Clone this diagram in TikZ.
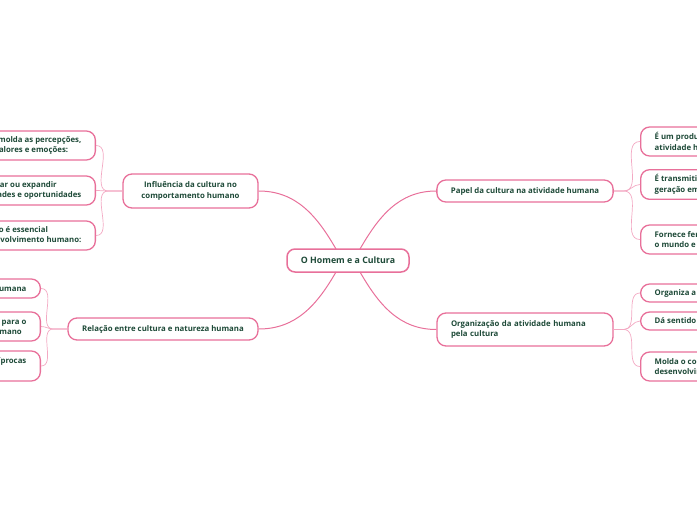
\documentclass[tikz,border=0pt]{standalone}
\usepackage{fontspec}
\setmainfont{Open Sans}
\begin{document}
\begin{tikzpicture}[x=1pt,y=-1pt,
  every node/.style={font=\fontsize{7.8}{10.5}\selectfont\bfseries, text=txt},
  box/.style={draw=pk, line width=1.3pt, rounded corners=9pt, fill=white, inner xsep=14pt, inner ysep=5pt, align=left},
  main/.style={draw=pk, line width=1.5pt, rounded corners=8pt, fill=white, minimum height=23pt, minimum width=122pt, font=\fontsize{8.8}{10}\selectfont\bfseries},
  link/.style={draw=pk, line width=1pt},
  leaf/.style={draw=lpk, line width=0.7pt}]
\definecolor{pk}{HTML}{E8709A}
\definecolor{lpk}{HTML}{F3A9C3}
\definecolor{txt}{HTML}{1E4A38}
\useasboundingbox (0,0) rectangle (697,520);
\clip (0,0) rectangle (697,520);
\node[main] (c) at (348,260.5) {O Homem e a Cultura};
\node[box, minimum width=135pt, minimum height=34pt, align=center] (inf) at (190.5,191) {Influência da cultura no\\comportamento humano};
\node[box, minimum width=176pt, minimum height=22pt] (pap) at (525,191) {Papel da cultura na atividade humana};
\node[box, minimum width=190pt, minimum height=22pt] (rel) at (163,329) {Relação entre cultura e natureza humana};
\node[box, minimum width=176pt, minimum height=33pt, text width=148pt] (org) at (525,329.5) {Organização da atividade humana\\pela cultura};
% left leaves
\node[box, anchor=east, minimum height=29pt] (i1) at (96,145.5) {A cultura molda as percepções,\\crenças, valores e emoções:};
\node[box, anchor=east, minimum height=29pt] (i2) at (96,190.5) {Pode limitar ou expandir\\possibilidades e oportunidades};
\node[box, anchor=east, minimum height=29pt] (i3) at (96,235.5) {O simbolismo é essencial\\para o desenvolvimento humano:};
\node[box, anchor=east, minimum height=19pt] (r1) at (41,288.5) {Natureza humana};
\node[box, anchor=east, minimum height=29pt] (r2) at (41,326.5) {A cultura é essencial para o\\desenvolvimento humano};
\node[box, anchor=east, minimum height=30pt] (r3) at (41,366) {Interações recíprocas\\entre ambas};
% right leaves
\node[box, anchor=west, minimum height=29pt] (p1) at (640,141.5) {É um produto da\\atividade humana};
\node[box, anchor=west, minimum height=29pt] (p2) at (640,184.5) {É transmitida de\\geração em geração};
\node[box, anchor=west, minimum height=29pt] (p3) at (640,239.5) {Fornece ferramentas para\\o mundo e a vida};
\node[box, anchor=west, minimum height=18pt] (o1) at (640,293) {Organiza a atividade humana};
\node[box, anchor=west, minimum height=18pt] (o2) at (640,321) {Dá sentido à vida humana};
\node[box, anchor=west, minimum height=29pt] (o3) at (640,366.5) {Molda o comportamento e o\\desenvolvimento humano};
% main links
\draw[link] (336,249) to[out=120,in=0] (inf.east);
\draw[link] (360,249) to[out=60,in=180] (pap.west);
\draw[link] (336,272) to[out=240,in=0] (rel.east);
\draw[link] (360,272) to[out=300,in=180] (org.west);
% leaf links
\foreach \l in {i1,i2,i3} \draw[leaf] (inf.west) -- ++(-14,0) to[out=180,in=0] (\l.east);
\foreach \l in {r1,r2,r3} \draw[leaf] (rel.west) -- ++(-14,0) to[out=180,in=0] (\l.east);
\foreach \l in {p1,p2,p3} \draw[leaf] (pap.east) -- ++(10,0) to[out=0,in=180] (\l.west);
\foreach \l in {o1,o2,o3} \draw[leaf] (org.east) -- ++(10,0) to[out=0,in=180] (\l.west);
\end{tikzpicture}
\end{document}
